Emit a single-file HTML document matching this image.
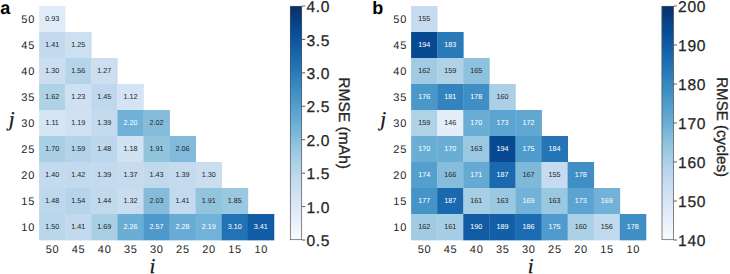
<!DOCTYPE html><html><head><meta charset="utf-8"><style>
html,body{margin:0;padding:0;background:#fff;}
body{width:730px;height:274px;overflow:hidden;}
svg{display:block;text-rendering:geometricPrecision;}
text{font-family:"Liberation Sans",sans-serif;}
.ann text{font-size:7.2px;text-anchor:middle;}
.tick text{font-size:11px;letter-spacing:0.7px;text-anchor:middle;fill:#262626;}
.tick text.yt{text-anchor:end;}
.cbt text{font-size:15.6px;letter-spacing:0.7px;fill:#262626;stroke:#262626;stroke-width:0.25px;}
.cbl{font-size:15.4px;fill:#262626;stroke:#262626;stroke-width:0.3px;}
.ax{font-family:"Liberation Serif",serif;font-style:italic;font-size:21px;fill:#111;stroke:#111;stroke-width:0.25px;}
.pl{font-weight:bold;font-size:18px;fill:#000;}
</style></head><body><svg width="730" height="274" viewBox="0 0 730 274"><defs><linearGradient id="ga" x1="0" y1="0" x2="0" y2="1"><stop offset="0.000" stop-color="#08306b"/><stop offset="0.025" stop-color="#083674"/><stop offset="0.050" stop-color="#083c7d"/><stop offset="0.075" stop-color="#084488"/><stop offset="0.100" stop-color="#084a91"/><stop offset="0.125" stop-color="#08509b"/><stop offset="0.150" stop-color="#0d57a1"/><stop offset="0.175" stop-color="#125da6"/><stop offset="0.200" stop-color="#1764ab"/><stop offset="0.225" stop-color="#1c6ab0"/><stop offset="0.250" stop-color="#2070b4"/><stop offset="0.275" stop-color="#2777b8"/><stop offset="0.300" stop-color="#2e7ebc"/><stop offset="0.325" stop-color="#3585bf"/><stop offset="0.350" stop-color="#3b8bc2"/><stop offset="0.375" stop-color="#4191c6"/><stop offset="0.400" stop-color="#4a98c9"/><stop offset="0.425" stop-color="#529dcc"/><stop offset="0.450" stop-color="#5ba3d0"/><stop offset="0.475" stop-color="#63a8d3"/><stop offset="0.500" stop-color="#6aaed6"/><stop offset="0.525" stop-color="#75b4d8"/><stop offset="0.550" stop-color="#7fb9da"/><stop offset="0.575" stop-color="#8abfdd"/><stop offset="0.600" stop-color="#94c4df"/><stop offset="0.625" stop-color="#9dcae1"/><stop offset="0.650" stop-color="#a6cee4"/><stop offset="0.675" stop-color="#aed1e7"/><stop offset="0.700" stop-color="#b7d4ea"/><stop offset="0.725" stop-color="#bed8ec"/><stop offset="0.750" stop-color="#c6dbef"/><stop offset="0.775" stop-color="#cbdef1"/><stop offset="0.800" stop-color="#d0e1f2"/><stop offset="0.825" stop-color="#d5e5f4"/><stop offset="0.850" stop-color="#d9e8f5"/><stop offset="0.875" stop-color="#deebf7"/><stop offset="0.900" stop-color="#e3eef9"/><stop offset="0.925" stop-color="#e8f1fa"/><stop offset="0.950" stop-color="#eef5fc"/><stop offset="0.975" stop-color="#f2f8fd"/><stop offset="1.000" stop-color="#f7fbff"/></linearGradient><linearGradient id="gb" x1="0" y1="0" x2="0" y2="1"><stop offset="0.000" stop-color="#08306b"/><stop offset="0.025" stop-color="#083674"/><stop offset="0.050" stop-color="#083c7d"/><stop offset="0.075" stop-color="#084488"/><stop offset="0.100" stop-color="#084a91"/><stop offset="0.125" stop-color="#08509b"/><stop offset="0.150" stop-color="#0d57a1"/><stop offset="0.175" stop-color="#125da6"/><stop offset="0.200" stop-color="#1764ab"/><stop offset="0.225" stop-color="#1c6ab0"/><stop offset="0.250" stop-color="#2070b4"/><stop offset="0.275" stop-color="#2777b8"/><stop offset="0.300" stop-color="#2e7ebc"/><stop offset="0.325" stop-color="#3585bf"/><stop offset="0.350" stop-color="#3b8bc2"/><stop offset="0.375" stop-color="#4191c6"/><stop offset="0.400" stop-color="#4a98c9"/><stop offset="0.425" stop-color="#529dcc"/><stop offset="0.450" stop-color="#5ba3d0"/><stop offset="0.475" stop-color="#63a8d3"/><stop offset="0.500" stop-color="#6aaed6"/><stop offset="0.525" stop-color="#75b4d8"/><stop offset="0.550" stop-color="#7fb9da"/><stop offset="0.575" stop-color="#8abfdd"/><stop offset="0.600" stop-color="#94c4df"/><stop offset="0.625" stop-color="#9dcae1"/><stop offset="0.650" stop-color="#a6cee4"/><stop offset="0.675" stop-color="#aed1e7"/><stop offset="0.700" stop-color="#b7d4ea"/><stop offset="0.725" stop-color="#bed8ec"/><stop offset="0.750" stop-color="#c6dbef"/><stop offset="0.775" stop-color="#cbdef1"/><stop offset="0.800" stop-color="#d0e1f2"/><stop offset="0.825" stop-color="#d5e5f4"/><stop offset="0.850" stop-color="#d9e8f5"/><stop offset="0.875" stop-color="#deebf7"/><stop offset="0.900" stop-color="#e3eef9"/><stop offset="0.925" stop-color="#e8f1fa"/><stop offset="0.950" stop-color="#eef5fc"/><stop offset="0.975" stop-color="#f2f8fd"/><stop offset="1.000" stop-color="#f7fbff"/></linearGradient></defs><rect x="39.10" y="6.00" width="26.44" height="26.35" fill="#dfebf7"/>
<rect x="39.10" y="32.00" width="26.44" height="26.35" fill="#c3daee"/>
<rect x="65.19" y="32.00" width="26.44" height="26.35" fill="#cde0f1"/>
<rect x="39.10" y="58.00" width="26.44" height="26.35" fill="#cadef0"/>
<rect x="65.19" y="58.00" width="26.44" height="26.35" fill="#b5d4e9"/>
<rect x="91.28" y="58.00" width="26.44" height="26.35" fill="#ccdff1"/>
<rect x="39.10" y="84.00" width="26.44" height="26.35" fill="#b0d2e7"/>
<rect x="65.19" y="84.00" width="26.44" height="26.35" fill="#cee0f2"/>
<rect x="91.28" y="84.00" width="26.44" height="26.35" fill="#bfd8ed"/>
<rect x="117.37" y="84.00" width="26.44" height="26.35" fill="#d4e4f4"/>
<rect x="39.10" y="110.00" width="26.44" height="26.35" fill="#d5e5f4"/>
<rect x="65.19" y="110.00" width="26.44" height="26.35" fill="#d0e2f2"/>
<rect x="91.28" y="110.00" width="26.44" height="26.35" fill="#c4daee"/>
<rect x="117.37" y="110.00" width="26.44" height="26.35" fill="#71b1d7"/>
<rect x="143.46" y="110.00" width="26.44" height="26.35" fill="#85bcdc"/>
<rect x="39.10" y="136.00" width="26.44" height="26.35" fill="#a9cfe5"/>
<rect x="65.19" y="136.00" width="26.44" height="26.35" fill="#b3d3e8"/>
<rect x="91.28" y="136.00" width="26.44" height="26.35" fill="#bdd7ec"/>
<rect x="117.37" y="136.00" width="26.44" height="26.35" fill="#d1e2f3"/>
<rect x="143.46" y="136.00" width="26.44" height="26.35" fill="#92c4de"/>
<rect x="169.55" y="136.00" width="26.44" height="26.35" fill="#81badb"/>
<rect x="39.10" y="162.00" width="26.44" height="26.35" fill="#c4daee"/>
<rect x="65.19" y="162.00" width="26.44" height="26.35" fill="#c2d9ee"/>
<rect x="91.28" y="162.00" width="26.44" height="26.35" fill="#c4daee"/>
<rect x="117.37" y="162.00" width="26.44" height="26.35" fill="#c7dbef"/>
<rect x="143.46" y="162.00" width="26.44" height="26.35" fill="#c1d9ed"/>
<rect x="169.55" y="162.00" width="26.44" height="26.35" fill="#c4daee"/>
<rect x="195.64" y="162.00" width="26.44" height="26.35" fill="#cadef0"/>
<rect x="39.10" y="188.00" width="26.44" height="26.35" fill="#bdd7ec"/>
<rect x="65.19" y="188.00" width="26.44" height="26.35" fill="#b7d4ea"/>
<rect x="91.28" y="188.00" width="26.44" height="26.35" fill="#c1d9ed"/>
<rect x="117.37" y="188.00" width="26.44" height="26.35" fill="#caddf0"/>
<rect x="143.46" y="188.00" width="26.44" height="26.35" fill="#85bcdc"/>
<rect x="169.55" y="188.00" width="26.44" height="26.35" fill="#c3daee"/>
<rect x="195.64" y="188.00" width="26.44" height="26.35" fill="#92c4de"/>
<rect x="221.73" y="188.00" width="26.44" height="26.35" fill="#9ac8e0"/>
<rect x="39.10" y="214.00" width="26.44" height="26.35" fill="#bad6eb"/>
<rect x="65.19" y="214.00" width="26.44" height="26.35" fill="#c3daee"/>
<rect x="91.28" y="214.00" width="26.44" height="26.35" fill="#a9cfe5"/>
<rect x="117.37" y="214.00" width="26.44" height="26.35" fill="#6aaed6"/>
<rect x="143.46" y="214.00" width="26.44" height="26.35" fill="#4d99ca"/>
<rect x="169.55" y="214.00" width="26.44" height="26.35" fill="#68acd5"/>
<rect x="195.64" y="214.00" width="26.44" height="26.35" fill="#72b2d8"/>
<rect x="221.73" y="214.00" width="26.44" height="26.35" fill="#2272b6"/>
<rect x="247.82" y="214.00" width="26.44" height="26.35" fill="#115ca5"/>
<rect x="411.10" y="6.00" width="26.44" height="26.35" fill="#c6dbef"/>
<rect x="411.10" y="32.00" width="26.44" height="26.35" fill="#084a91"/>
<rect x="437.19" y="32.00" width="26.44" height="26.35" fill="#2a7ab9"/>
<rect x="411.10" y="58.00" width="26.44" height="26.35" fill="#a1cbe2"/>
<rect x="437.19" y="58.00" width="26.44" height="26.35" fill="#b0d2e7"/>
<rect x="463.28" y="58.00" width="26.44" height="26.35" fill="#8dc1dd"/>
<rect x="411.10" y="84.00" width="26.44" height="26.35" fill="#4a98c9"/>
<rect x="437.19" y="84.00" width="26.44" height="26.35" fill="#3383be"/>
<rect x="463.28" y="84.00" width="26.44" height="26.35" fill="#3f8fc5"/>
<rect x="489.37" y="84.00" width="26.44" height="26.35" fill="#abd0e6"/>
<rect x="411.10" y="110.00" width="26.44" height="26.35" fill="#b0d2e7"/>
<rect x="437.19" y="110.00" width="26.44" height="26.35" fill="#e3eef9"/>
<rect x="463.28" y="110.00" width="26.44" height="26.35" fill="#6aaed6"/>
<rect x="489.37" y="110.00" width="26.44" height="26.35" fill="#5ba3d0"/>
<rect x="515.46" y="110.00" width="26.44" height="26.35" fill="#60a7d2"/>
<rect x="411.10" y="136.00" width="26.44" height="26.35" fill="#6aaed6"/>
<rect x="437.19" y="136.00" width="26.44" height="26.35" fill="#6aaed6"/>
<rect x="463.28" y="136.00" width="26.44" height="26.35" fill="#9ac8e0"/>
<rect x="489.37" y="136.00" width="26.44" height="26.35" fill="#084a91"/>
<rect x="515.46" y="136.00" width="26.44" height="26.35" fill="#4f9bcb"/>
<rect x="541.55" y="136.00" width="26.44" height="26.35" fill="#2575b7"/>
<rect x="411.10" y="162.00" width="26.44" height="26.35" fill="#549fcd"/>
<rect x="437.19" y="162.00" width="26.44" height="26.35" fill="#87bddc"/>
<rect x="463.28" y="162.00" width="26.44" height="26.35" fill="#65aad4"/>
<rect x="489.37" y="162.00" width="26.44" height="26.35" fill="#1a68ae"/>
<rect x="515.46" y="162.00" width="26.44" height="26.35" fill="#7fb9da"/>
<rect x="541.55" y="162.00" width="26.44" height="26.35" fill="#c6dbef"/>
<rect x="567.64" y="162.00" width="26.44" height="26.35" fill="#3f8fc5"/>
<rect x="411.10" y="188.00" width="26.44" height="26.35" fill="#4594c7"/>
<rect x="437.19" y="188.00" width="26.44" height="26.35" fill="#1a68ae"/>
<rect x="463.28" y="188.00" width="26.44" height="26.35" fill="#a6cee4"/>
<rect x="489.37" y="188.00" width="26.44" height="26.35" fill="#9ac8e0"/>
<rect x="515.46" y="188.00" width="26.44" height="26.35" fill="#72b2d8"/>
<rect x="541.55" y="188.00" width="26.44" height="26.35" fill="#9ac8e0"/>
<rect x="567.64" y="188.00" width="26.44" height="26.35" fill="#5ba3d0"/>
<rect x="593.73" y="188.00" width="26.44" height="26.35" fill="#72b2d8"/>
<rect x="411.10" y="214.00" width="26.44" height="26.35" fill="#a1cbe2"/>
<rect x="437.19" y="214.00" width="26.44" height="26.35" fill="#a6cee4"/>
<rect x="463.28" y="214.00" width="26.44" height="26.35" fill="#105ba4"/>
<rect x="489.37" y="214.00" width="26.44" height="26.35" fill="#135fa7"/>
<rect x="515.46" y="214.00" width="26.44" height="26.35" fill="#1d6cb1"/>
<rect x="541.55" y="214.00" width="26.44" height="26.35" fill="#4f9bcb"/>
<rect x="567.64" y="214.00" width="26.44" height="26.35" fill="#abd0e6"/>
<rect x="593.73" y="214.00" width="26.44" height="26.35" fill="#c1d9ed"/>
<rect x="619.82" y="214.00" width="26.44" height="26.35" fill="#3f8fc5"/>
<g class="ann"><text x="52.15" y="21.00" fill="#262626">0.93</text><text x="52.15" y="47.00" fill="#262626">1.41</text><text x="78.23" y="47.00" fill="#262626">1.25</text><text x="52.15" y="73.00" fill="#262626">1.30</text><text x="78.23" y="73.00" fill="#262626">1.56</text><text x="104.33" y="73.00" fill="#262626">1.27</text><text x="52.15" y="99.00" fill="#262626">1.62</text><text x="78.23" y="99.00" fill="#262626">1.23</text><text x="104.33" y="99.00" fill="#262626">1.45</text><text x="130.41" y="99.00" fill="#262626">1.12</text><text x="52.15" y="125.00" fill="#262626">1.11</text><text x="78.23" y="125.00" fill="#262626">1.19</text><text x="104.33" y="125.00" fill="#262626">1.39</text><text x="130.41" y="125.00" fill="#ffffff">2.20</text><text x="156.50" y="125.00" fill="#262626">2.02</text><text x="52.15" y="151.00" fill="#262626">1.70</text><text x="78.23" y="151.00" fill="#262626">1.59</text><text x="104.33" y="151.00" fill="#262626">1.48</text><text x="130.41" y="151.00" fill="#262626">1.18</text><text x="156.50" y="151.00" fill="#262626">1.91</text><text x="182.59" y="151.00" fill="#262626">2.06</text><text x="52.15" y="177.00" fill="#262626">1.40</text><text x="78.23" y="177.00" fill="#262626">1.42</text><text x="104.33" y="177.00" fill="#262626">1.39</text><text x="130.41" y="177.00" fill="#262626">1.37</text><text x="156.50" y="177.00" fill="#262626">1.43</text><text x="182.59" y="177.00" fill="#262626">1.39</text><text x="208.68" y="177.00" fill="#262626">1.30</text><text x="52.15" y="203.00" fill="#262626">1.48</text><text x="78.23" y="203.00" fill="#262626">1.54</text><text x="104.33" y="203.00" fill="#262626">1.44</text><text x="130.41" y="203.00" fill="#262626">1.32</text><text x="156.50" y="203.00" fill="#262626">2.03</text><text x="182.59" y="203.00" fill="#262626">1.41</text><text x="208.68" y="203.00" fill="#262626">1.91</text><text x="234.77" y="203.00" fill="#262626">1.85</text><text x="52.15" y="229.00" fill="#262626">1.50</text><text x="78.23" y="229.00" fill="#262626">1.41</text><text x="104.33" y="229.00" fill="#262626">1.69</text><text x="130.41" y="229.00" fill="#ffffff">2.26</text><text x="156.50" y="229.00" fill="#ffffff">2.57</text><text x="182.59" y="229.00" fill="#ffffff">2.28</text><text x="208.68" y="229.00" fill="#ffffff">2.19</text><text x="234.77" y="229.00" fill="#ffffff">3.10</text><text x="260.87" y="229.00" fill="#ffffff">3.41</text><text x="424.15" y="21.00" fill="#262626">155</text><text x="424.15" y="47.00" fill="#ffffff">194</text><text x="450.24" y="47.00" fill="#ffffff">183</text><text x="424.15" y="73.00" fill="#262626">162</text><text x="450.24" y="73.00" fill="#262626">159</text><text x="476.33" y="73.00" fill="#262626">165</text><text x="424.15" y="99.00" fill="#ffffff">176</text><text x="450.24" y="99.00" fill="#ffffff">181</text><text x="476.33" y="99.00" fill="#ffffff">178</text><text x="502.42" y="99.00" fill="#262626">160</text><text x="424.15" y="125.00" fill="#262626">159</text><text x="450.24" y="125.00" fill="#262626">146</text><text x="476.33" y="125.00" fill="#ffffff">170</text><text x="502.42" y="125.00" fill="#ffffff">173</text><text x="528.50" y="125.00" fill="#ffffff">172</text><text x="424.15" y="151.00" fill="#ffffff">170</text><text x="450.24" y="151.00" fill="#ffffff">170</text><text x="476.33" y="151.00" fill="#262626">163</text><text x="502.42" y="151.00" fill="#ffffff">194</text><text x="528.50" y="151.00" fill="#ffffff">175</text><text x="554.59" y="151.00" fill="#ffffff">184</text><text x="424.15" y="177.00" fill="#ffffff">174</text><text x="450.24" y="177.00" fill="#262626">166</text><text x="476.33" y="177.00" fill="#ffffff">171</text><text x="502.42" y="177.00" fill="#ffffff">187</text><text x="528.50" y="177.00" fill="#262626">167</text><text x="554.59" y="177.00" fill="#262626">155</text><text x="580.68" y="177.00" fill="#ffffff">178</text><text x="424.15" y="203.00" fill="#ffffff">177</text><text x="450.24" y="203.00" fill="#ffffff">187</text><text x="476.33" y="203.00" fill="#262626">161</text><text x="502.42" y="203.00" fill="#262626">163</text><text x="528.50" y="203.00" fill="#ffffff">169</text><text x="554.59" y="203.00" fill="#262626">163</text><text x="580.68" y="203.00" fill="#ffffff">173</text><text x="606.77" y="203.00" fill="#ffffff">169</text><text x="424.15" y="229.00" fill="#262626">162</text><text x="450.24" y="229.00" fill="#262626">161</text><text x="476.33" y="229.00" fill="#ffffff">190</text><text x="502.42" y="229.00" fill="#ffffff">189</text><text x="528.50" y="229.00" fill="#ffffff">186</text><text x="554.59" y="229.00" fill="#ffffff">175</text><text x="580.68" y="229.00" fill="#262626">160</text><text x="606.77" y="229.00" fill="#262626">156</text><text x="632.87" y="229.00" fill="#ffffff">178</text></g>
<g class="tick"><text x="52.50" y="252.8">50</text><text x="78.58" y="252.8">45</text><text x="104.67" y="252.8">40</text><text x="130.76" y="252.8">35</text><text x="156.85" y="252.8">30</text><text x="182.94" y="252.8">25</text><text x="209.03" y="252.8">20</text><text x="235.12" y="252.8">15</text><text x="261.22" y="252.8">10</text><text class="yt" x="35.00" y="23.40">50</text><text class="yt" x="35.00" y="49.40">45</text><text class="yt" x="35.00" y="75.40">40</text><text class="yt" x="35.00" y="101.40">35</text><text class="yt" x="35.00" y="127.40">30</text><text class="yt" x="35.00" y="153.40">25</text><text class="yt" x="35.00" y="179.40">20</text><text class="yt" x="35.00" y="205.40">15</text><text class="yt" x="35.00" y="231.40">10</text><text x="424.50" y="252.8">50</text><text x="450.59" y="252.8">45</text><text x="476.68" y="252.8">40</text><text x="502.77" y="252.8">35</text><text x="528.86" y="252.8">30</text><text x="554.94" y="252.8">25</text><text x="581.03" y="252.8">20</text><text x="607.12" y="252.8">15</text><text x="633.22" y="252.8">10</text><text class="yt" x="407.00" y="23.40">50</text><text class="yt" x="407.00" y="49.40">45</text><text class="yt" x="407.00" y="75.40">40</text><text class="yt" x="407.00" y="101.40">35</text><text class="yt" x="407.00" y="127.40">30</text><text class="yt" x="407.00" y="153.40">25</text><text class="yt" x="407.00" y="179.40">20</text><text class="yt" x="407.00" y="205.40">15</text><text class="yt" x="407.00" y="231.40">10</text></g>
<rect x="290.0" y="6.0" width="12.0" height="234.0" fill="url(#ga)"/>
<rect x="290.3" y="6.3" width="11.4" height="233.4" fill="none" stroke="#555" stroke-width="0.7"/>
<line x1="302.0" x2="305.2" y1="240.00" y2="240.00" stroke="#333" stroke-width="0.8"/>
<line x1="302.0" x2="305.2" y1="206.57" y2="206.57" stroke="#333" stroke-width="0.8"/>
<line x1="302.0" x2="305.2" y1="173.14" y2="173.14" stroke="#333" stroke-width="0.8"/>
<line x1="302.0" x2="305.2" y1="139.71" y2="139.71" stroke="#333" stroke-width="0.8"/>
<line x1="302.0" x2="305.2" y1="106.29" y2="106.29" stroke="#333" stroke-width="0.8"/>
<line x1="302.0" x2="305.2" y1="72.86" y2="72.86" stroke="#333" stroke-width="0.8"/>
<line x1="302.0" x2="305.2" y1="39.43" y2="39.43" stroke="#333" stroke-width="0.8"/>
<line x1="302.0" x2="305.2" y1="6.00" y2="6.00" stroke="#333" stroke-width="0.8"/>
<rect x="661.7" y="6.0" width="12.0" height="234.0" fill="url(#gb)"/>
<rect x="662.0" y="6.3" width="11.4" height="233.4" fill="none" stroke="#555" stroke-width="0.7"/>
<line x1="673.7" x2="676.9000000000001" y1="240.00" y2="240.00" stroke="#333" stroke-width="0.8"/>
<line x1="673.7" x2="676.9000000000001" y1="201.00" y2="201.00" stroke="#333" stroke-width="0.8"/>
<line x1="673.7" x2="676.9000000000001" y1="162.00" y2="162.00" stroke="#333" stroke-width="0.8"/>
<line x1="673.7" x2="676.9000000000001" y1="123.00" y2="123.00" stroke="#333" stroke-width="0.8"/>
<line x1="673.7" x2="676.9000000000001" y1="84.00" y2="84.00" stroke="#333" stroke-width="0.8"/>
<line x1="673.7" x2="676.9000000000001" y1="45.00" y2="45.00" stroke="#333" stroke-width="0.8"/>
<line x1="673.7" x2="676.9000000000001" y1="6.00" y2="6.00" stroke="#333" stroke-width="0.8"/>
<g class="cbt"><text x="306.40" y="246.20">0.5</text><text x="306.40" y="212.77">1.0</text><text x="306.40" y="179.34">1.5</text><text x="306.40" y="145.91">2.0</text><text x="306.40" y="112.49">2.5</text><text x="306.40" y="79.06">3.0</text><text x="306.40" y="45.63">3.5</text><text x="306.40" y="12.20">4.0</text><text x="678.10" y="246.20">140</text><text x="678.10" y="207.20">150</text><text x="678.10" y="168.20">160</text><text x="678.10" y="129.20">170</text><text x="678.10" y="90.20">180</text><text x="678.10" y="51.20">190</text><text x="678.10" y="12.20">200</text></g>
<text class="cbl" transform="translate(339.4,77.2) rotate(90)" textLength="91.8" lengthAdjust="spacingAndGlyphs">RMSE (mAh)</text>
<text class="cbl" transform="translate(716.8,77.2) rotate(90)" textLength="99.8" lengthAdjust="spacingAndGlyphs">RMSE (cycles)</text>
<text class="ax" x="149.5" y="272.6">i</text>
<text class="ax" x="527.8" y="272.6">i</text>
<text class="ax" x="8.8" y="126">j</text>
<text class="ax" x="380.3" y="126">j</text>
<text class="pl" x="0.3" y="13.6">a</text>
<text class="pl" x="372.3" y="13.6">b</text></svg></body></html>
